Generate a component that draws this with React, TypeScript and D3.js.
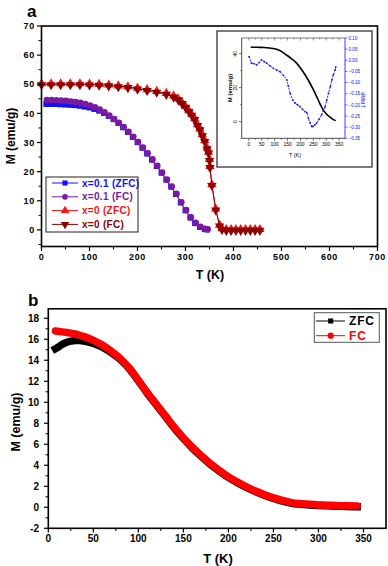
import * as d3 from "d3";

// ---- panel a : M(T) for x=0.1 and x=0
const T01 = [10, 20, 30, 40, 50, 60, 70, 80, 90, 100, 110, 120, 130, 140, 150, 160, 170, 180, 190, 200, 210, 220, 230, 240, 250, 260, 270, 280, 290, 300, 310, 320, 330, 340, 345];
const M01_ZFC = [43.2, 43.2, 43.2, 43.1, 43.0, 42.9, 42.8, 42.6, 42.3, 42.0, 41.5, 40.9, 40.1, 39.1, 38.0, 36.7, 35.2, 33.6, 31.9, 30.1, 28.2, 26.2, 24.1, 21.9, 19.6, 17.2, 14.8, 12.3, 9.4, 6.7, 4.2, 2.3, 1.0, 0.3, 0.1];
const M01_FC = [44.6, 44.6, 44.5, 44.4, 44.3, 44.1, 43.9, 43.6, 43.2, 42.7, 42.1, 41.3, 40.4, 39.3, 38.1, 36.8, 35.3, 33.7, 32.0, 30.2, 28.3, 26.3, 24.2, 22.0, 19.7, 17.3, 14.9, 12.4, 9.5, 6.8, 4.3, 2.4, 1.1, 0.4, 0.2];

const T0 = [0, 20, 40, 60, 80, 100, 120, 140, 160, 180, 200, 220, 240, 260, 275, 285, 293, 300, 307, 313, 319, 325, 330, 335, 340, 345, 348, 350, 351, 355, 363, 371, 376, 385, 395, 405, 415, 425, 435, 445, 455];
const M0_ZFC = [50, 50, 50, 50, 50, 49.9, 49.8, 49.6, 49.3, 49.0, 48.5, 48.0, 47.4, 46.7, 45.8, 44.8, 43.5, 42.2, 40.8, 39.5, 38.0, 36.0, 34.5, 32.5, 30.5, 28.0, 26.5, 24.0, 21.6, 15.4, 7.0, 1.5, 0.3, 0, 0, 0, 0, 0, 0, 0, 0];
const M0_FC = [50, 50, 50, 50, 50, 49.9, 49.8, 49.6, 49.3, 49.0, 48.5, 48.0, 47.4, 46.7, 45.8, 44.8, 43.5, 42.2, 40.8, 39.5, 38.0, 36.0, 34.5, 32.5, 30.5, 28.0, 26.5, 24.0, 21.6, 15.4, 7.0, 1.5, 0.3, 0, 0, 0, 0, 0, 0, 0, 0];

const aXTicks = [0, 100, 200, 300, 400, 500, 600, 700];
const aYTicks = [0, 10, 20, 30, 40, 50, 60, 70];
const aLegend = ["x=0.1 (ZFC)", "x=0.1 (FC)", "x=0 (ZFC)", "x=0 (FC)"];

// ---- inset : M and dM/dT
const insT = [7, 20, 40, 60, 80, 100, 120, 146, 165, 185, 205, 230, 250, 263, 275, 288, 300, 315, 325, 337];
const insM = [43.8, 43.8, 43.7, 43.6, 43.3, 42.9, 41.8, 39.2, 37.0, 34.4, 30.5, 24.5, 18.8, 14.7, 10.8, 6.9, 4.6, 2.6, 1.5, 0.6];
const dT = [1, 10, 20, 30, 40, 49, 60, 69, 82, 95, 108, 121, 134, 147, 153, 160, 170, 179, 189, 198, 208, 218, 225, 231, 237, 244, 249, 256, 263, 272, 282, 289, 296, 302, 309, 316, 322, 328, 335, 337];
const dMdT = [0.016, -0.013, -0.015, -0.021, -0.01, 0.0015, -0.006, -0.013, -0.025, -0.036, -0.044, -0.051, -0.068, -0.088, -0.115, -0.148, -0.178, -0.192, -0.2, -0.208, -0.22, -0.23, -0.235, -0.26, -0.28, -0.297, -0.297, -0.29, -0.282, -0.265, -0.245, -0.228, -0.208, -0.18, -0.148, -0.118, -0.088, -0.065, -0.043, -0.03];
const insXTicks = [0, 50, 100, 150, 200, 250, 300, 350];
const insYTicks = [0, 20, 40];
const insRTicks = [0.1, 0.05, 0, -0.05, -0.1, -0.15, -0.2, -0.25, -0.3, -0.35];

// ---- panel b : ZFC / FC
const TB = [8, 12, 16, 20, 25, 30, 35, 40, 50, 60, 70, 80, 90, 100, 110, 120, 130, 140, 150, 160, 170, 180, 190, 200, 210, 220, 230, 240, 250, 260, 270, 280, 290, 300, 310, 320, 330, 343];
const MB_ZFC = [15.1, 15.3, 15.55, 15.7, 15.82, 15.88, 15.88, 15.82, 15.6, 15.25, 14.72, 14.07, 13.19, 12.04, 10.84, 9.74, 8.64, 7.54, 6.54, 5.64, 4.84, 4.09, 3.44, 2.84, 2.34, 1.89, 1.49, 1.14, 0.84, 0.59, 0.39, 0.29, 0.22, 0.17, 0.14, 0.11, 0.08, 0.06];
const MB_FC = [16.78, 16.74, 16.7, 16.65, 16.58, 16.5, 16.38, 16.25, 15.9, 15.45, 14.85, 14.15, 13.25, 12.1, 10.9, 9.8, 8.7, 7.6, 6.6, 5.7, 4.9, 4.15, 3.5, 2.9, 2.4, 1.95, 1.55, 1.2, 0.9, 0.65, 0.45, 0.35, 0.28, 0.23, 0.2, 0.17, 0.14, 0.12];
const bXTicks = [0, 50, 100, 150, 200, 250, 300, 350];
const bYTicks = [-2, 0, 2, 4, 6, 8, 10, 12, 14, 16, 18];
const bLegend = ["ZFC", "FC"];

const FONT = "'Liberation Sans', Arial, sans-serif";
const BLUE = "#1010ff";
const PURPLE = "#7a1aa0";
const RED = "#ff1010";
const DARKRED = "#8e0000";

const zip = (xs: number[], ys: number[]) => xs.map((x, i) => [x, ys[i]] as [number, number]);

const sym = (type: d3.SymbolType, size: number) => d3.symbol().type(type).size(size)() || "";

export default function App() {
  // panel a scales
  const xA = d3.scaleLinear().domain([0, 700]).range([41.5, 377.5]);
  const yA = d3.scaleLinear().domain([-5.7, 70]).range([246.5, 26]);
  const lineA = d3.line<[number, number]>().x((d) => xA(d[0])).y((d) => yA(d[1]));

  // inset scales
  const xI = d3.scaleLinear().domain([-28, 373]).range([241.7, 345]);
  const yI = d3.scaleLinear().domain([-9.8, 49.2]).range([138.3, 38]);
  const yR = d3.scaleLinear().domain([-0.35, 0.1]).range([138.3, 38]);
  const lineI = d3.line<[number, number]>().x((d) => xI(d[0])).y((d) => yI(d[1])).curve(d3.curveMonotoneX);
  const lineR = d3.line<[number, number]>().x((d) => xI(d[0])).y((d) => yR(d[1]));

  // panel b scales
  const xB = d3.scaleLinear().domain([0, 375]).range([48.3, 386]);
  const yB = d3.scaleLinear().domain([-2, 18.9]).range([528.3, 308.8]);
  const lineB = d3.line<[number, number]>().x((d) => xB(d[0])).y((d) => yB(d[1])).curve(d3.curveMonotoneX);

  const sq = sym(d3.symbolSquare, 34);
  const circ = sym(d3.symbolCircle, 34);
  const tri = sym(d3.symbolTriangle, 38);
  const sqL = sym(d3.symbolSquare, 26);
  const circL = sym(d3.symbolCircle, 26);
  const triL = sym(d3.symbolTriangle, 32);

  const legendColorsA = [BLUE, PURPLE, RED, DARKRED];
  const legendSymA = [sqL, circL, triL, triL];

  const aXMinor = d3.range(50, 700, 100);
  const aYMinor = d3.range(-5, 70, 10);
  const bXMinor = d3.range(25, 375, 50);
  const bYMinor = d3.range(-1, 19, 2);
  const iXMinor = d3.range(25, 375, 50);
  const iYMinor = [-10, 10, 30];

  return (
    <svg width={388} height={566} style={{ position: "absolute", left: 0, top: 0, background: "#fff" }} fontFamily={FONT}>
      <rect width={388} height={566} fill="#fff" />

      {/* ================= panel a ================= */}
      <text x={27} y={17} fontSize={17} fontWeight="bold">a</text>

      {/* data x=0.1 */}
      <path d={lineA(zip(T01, M01_ZFC)) || ""} fill="none" stroke={BLUE} strokeWidth={1} />
      {T01.map((t, i) => (
        <path key={"zb" + i} d={sq} transform={`translate(${xA(t)},${yA(M01_ZFC[i])})`} fill={BLUE} />
      ))}
      <path d={lineA(zip(T01, M01_FC)) || ""} fill="none" stroke={PURPLE} strokeWidth={1} />
      {T01.map((t, i) => (
        <path key={"fp" + i} d={circ} transform={`translate(${xA(t) + 0.6},${yA(M01_FC[i])})`} fill={PURPLE} />
      ))}

      {/* data x=0 */}
      <path d={lineA(zip(T0, M0_ZFC)) || ""} fill="none" stroke={RED} strokeWidth={1} />
      {T0.map((t, i) => (
        <path key={"zr" + i} d={tri} transform={`translate(${xA(t)},${yA(M0_ZFC[i]) - 0.6})`} fill={RED} />
      ))}
      <path d={lineA(zip(T0, M0_FC)) || ""} fill="none" stroke={DARKRED} strokeWidth={1} />
      {T0.map((t, i) => (
        <path key={"fr" + i} d={tri} transform={`translate(${xA(t)},${yA(M0_FC[i]) + 0.6}) rotate(180)`} fill={DARKRED} />
      ))}

      {/* frame & ticks */}
      <rect x={41.5} y={26} width={336} height={220.5} fill="none" stroke="#000" strokeWidth={1.6} />
      {aXTicks.map((t) => (
        <g key={"ax" + t}>
          <line x1={xA(t)} x2={xA(t)} y1={246.5} y2={251} stroke="#000" strokeWidth={1.2} />
          <text x={xA(t)} y={260} fontSize={9} fontWeight="bold" textAnchor="middle" letterSpacing={0.7}>{t}</text>
        </g>
      ))}
      {aXMinor.map((t) => (
        <line key={"axm" + t} x1={xA(t)} x2={xA(t)} y1={246.5} y2={249.5} stroke="#000" strokeWidth={1} />
      ))}
      {aYTicks.map((t) => (
        <g key={"ay" + t}>
          <line x1={37} x2={41.5} y1={yA(t)} y2={yA(t)} stroke="#000" strokeWidth={1.2} />
          <text x={35} y={yA(t) + 3.2} fontSize={9} fontWeight="bold" textAnchor="end" letterSpacing={0.7}>{t}</text>
        </g>
      ))}
      {aYMinor.map((t) => (
        <line key={"aym" + t} x1={38.5} x2={41.5} y1={yA(t)} y2={yA(t)} stroke="#000" strokeWidth={1} />
      ))}
      <text x={210} y={279} fontSize={12.5} fontWeight="bold" textAnchor="middle">T (K)</text>
      <text transform="translate(15,136) rotate(-90)" fontSize={12} fontWeight="bold" textAnchor="middle">M (emu/g)</text>

      {/* legend a */}
      <rect x={46} y={177} width={92} height={55} fill="#fff" stroke="#222" strokeWidth={1} />
      {aLegend.map((lab, i) => {
        const y = 183 + i * 13.8;
        return (
          <g key={"la" + i}>
            <line x1={52} x2={78} y1={y} y2={y} stroke={legendColorsA[i]} strokeWidth={1} />
            <path d={legendSymA[i]} transform={`translate(65,${y})${i === 3 ? " rotate(180)" : ""}`} fill={legendColorsA[i]} />
            <text x={82} y={y + 3.6} fontSize={10} fontWeight="bold" fill={legendColorsA[i]} letterSpacing={0.3}>{lab}</text>
          </g>
        );
      })}

      {/* ================= inset ================= */}
      <rect x={217} y={31} width={155} height={136} fill="#fff" stroke="#333" strokeWidth={1.3} />
      <path d={lineI(zip(insT, insM)) || ""} fill="none" stroke="#000" strokeWidth={1.6} />
      <path d={lineR(zip(dT, dMdT)) || ""} fill="none" stroke={BLUE} strokeWidth={0.9} strokeDasharray="2,1" />
      {dT.map((t, i) => (
        <rect key={"dd" + i} x={xI(t) - 0.8} y={yR(dMdT[i]) - 0.8} width={1.6} height={1.6} fill={BLUE} />
      ))}
      <line x1={241.7} x2={345} y1={38} y2={38} stroke="#444" strokeWidth={0.7} />
      <line x1={241.7} x2={345} y1={138.3} y2={138.3} stroke="#222" strokeWidth={0.8} />
      <line x1={241.7} x2={241.7} y1={38} y2={138.3} stroke="#222" strokeWidth={0.8} />
      <line x1={345} x2={345} y1={38} y2={138.3} stroke={BLUE} strokeWidth={0.8} />
      {insXTicks.map((t) => (
        <g key={"ix" + t}>
          <line x1={xI(t)} x2={xI(t)} y1={138.3} y2={141} stroke="#222" strokeWidth={0.6} />
          <line x1={xI(t)} x2={xI(t)} y1={38} y2={40.5} stroke="#444" strokeWidth={0.6} />
          <text x={xI(t)} y={146} fontSize={5} textAnchor="middle">{t}</text>
        </g>
      ))}
      {iXMinor.map((t) => (
        <g key={"ixm" + t}>
          <line x1={xI(t)} x2={xI(t)} y1={138.3} y2={140} stroke="#222" strokeWidth={0.5} />
          <line x1={xI(t)} x2={xI(t)} y1={38} y2={39.7} stroke="#444" strokeWidth={0.5} />
        </g>
      ))}
      {insYTicks.map((t) => (
        <g key={"iy" + t}>
          <line x1={239} x2={241.7} y1={yI(t)} y2={yI(t)} stroke="#222" strokeWidth={0.6} />
          <text transform={`translate(237,${yI(t)}) rotate(-90)`} fontSize={5} textAnchor="middle">{t}</text>
        </g>
      ))}
      {iYMinor.map((t) => (
        <line key={"iym" + t} x1={240} x2={241.7} y1={yI(t)} y2={yI(t)} stroke="#222" strokeWidth={0.5} />
      ))}
      {insRTicks.map((t) => (
        <g key={"ir" + t}>
          <line x1={345} x2={347.5} y1={yR(t)} y2={yR(t)} stroke={BLUE} strokeWidth={0.6} />
          <text x={348.5} y={yR(t) + 1.7} fontSize={4.6} fill={BLUE}>{d3.format(".2f")(t)}</text>
        </g>
      ))}
      <text x={295} y={157} fontSize={5.5} textAnchor="middle">T (K)</text>
      <text transform="translate(232,88) rotate(-90)" fontSize={6} fontWeight="bold" textAnchor="middle">M (emu/g)</text>
      <text transform="translate(361,100) rotate(90)" fontSize={5.5} fill={BLUE} textAnchor="middle">dM/dT</text>

      {/* ================= panel b ================= */}
      <text x={28} y={306} fontSize={17} fontWeight="bold">b</text>

      <path d={lineB(zip(TB, MB_ZFC)) || ""} fill="none" stroke="#000" strokeWidth={7.5} strokeLinecap="square" />
      <path d={lineB(zip(TB, MB_FC)) || ""} fill="none" stroke="#ff0000" strokeWidth={7.5} strokeLinecap="round" />

      <rect x={48.3} y={308.8} width={337.7} height={219.5} fill="none" stroke="#000" strokeWidth={1.6} />
      {bXTicks.map((t) => (
        <g key={"bx" + t}>
          <line x1={xB(t)} x2={xB(t)} y1={528.3} y2={532.5} stroke="#000" strokeWidth={1.2} />
          <text x={xB(t)} y={542} fontSize={10} fontWeight="bold" textAnchor="middle">{t}</text>
        </g>
      ))}
      {bXMinor.map((t) => (
        <line key={"bxm" + t} x1={xB(t)} x2={xB(t)} y1={528.3} y2={531} stroke="#000" strokeWidth={1} />
      ))}
      {bYTicks.map((t) => (
        <g key={"by" + t}>
          <line x1={44} x2={48.3} y1={yB(t)} y2={yB(t)} stroke="#000" strokeWidth={1.2} />
          <text x={39} y={yB(t) + 3.5} fontSize={10} fontWeight="bold" textAnchor="end">{t}</text>
        </g>
      ))}
      {bYMinor.map((t) => (
        <line key={"bym" + t} x1={45.5} x2={48.3} y1={yB(t)} y2={yB(t)} stroke="#000" strokeWidth={1} />
      ))}
      <text x={218} y={563} fontSize={13} fontWeight="bold" textAnchor="middle">T (K)</text>
      <text transform="translate(20,422) rotate(-90)" fontSize={12.5} fontWeight="bold" textAnchor="middle">M (emu/g)</text>

      {/* legend b */}
      <rect x={314.3} y={312.7} width={65} height={29.6} fill="#fff" stroke="#555" strokeWidth={1} />
      {bLegend.map((lab, i) => {
        const y = 321 + i * 14.7;
        const c = i === 0 ? "#000" : "#ff0000";
        return (
          <g key={"lb" + i}>
            <line x1={316} x2={345} y1={y} y2={y} stroke={c} strokeWidth={1} />
            <path d={i === 0 ? sqL : sym(d3.symbolCircle, 30)} transform={`translate(330.7,${y})`} fill={c} />
            <text x={349} y={y + 4.3} fontSize={12} fontWeight="bold" fill={c} letterSpacing={0.8}>{lab}</text>
          </g>
        );
      })}
    </svg>
  );
}
